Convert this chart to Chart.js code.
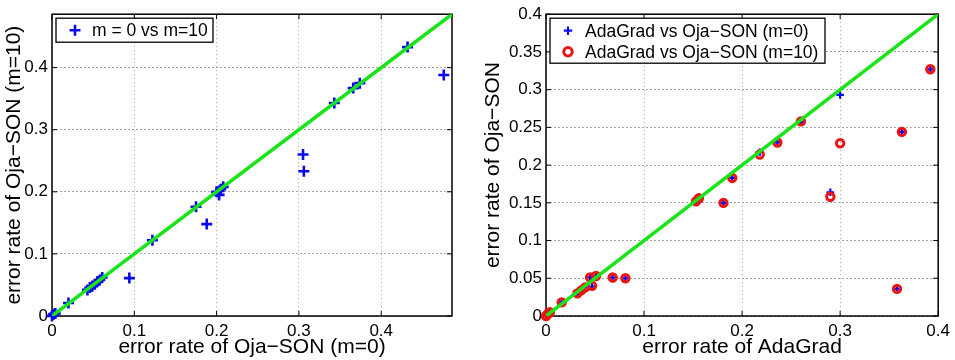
<!DOCTYPE html>
<html>
<head>
<meta charset="utf-8">
<script src="https://cdn.jsdelivr.net/npm/chart.js@4.4.0/dist/chart.umd.min.js"></script>
<style>
  body { margin: 0; background: #fff; }
  #left { position: absolute; left: 0; top: 0; }
  #right { position: absolute; left: 470px; top: 0; }
</style>
</head>
<body>
<canvas id="left" width="470" height="360"></canvas>
<canvas id="right" width="485" height="360"></canvas>
<script>
// ---------------- left panel: Oja-SON m=0 vs m=10 ----------------
const leftM0  = [0, 0.002, 0.004, 0.020, 0.043, 0.046, 0.049, 0.052, 0.055, 0.058, 0.061, 0.094, 0.122, 0.175, 0.188, 0.200, 0.203, 0.205, 0.208, 0.305, 0.306, 0.343, 0.366, 0.374, 0.432, 0.476];
const leftM10 = [0, 0.003, 0.004, 0.021, 0.042, 0.046, 0.048, 0.051, 0.055, 0.058, 0.062, 0.061, 0.122, 0.176, 0.148, 0.200, 0.195, 0.204, 0.208, 0.260, 0.233, 0.343, 0.367, 0.375, 0.433, 0.388];
const leftDiag = [0, 0.486];

// ---------------- right panel: AdaGrad vs Oja-SON ----------------
const adaGrad = [0, 0.002, 0.004, 0.016, 0.032, 0.036, 0.040, 0.045, 0.047, 0.051, 0.068, 0.081, 0.153, 0.156, 0.181, 0.190, 0.218, 0.236, 0.260, 0.290, 0.300, 0.358, 0.363, 0.392];
const ojaM0   = [0, 0.002, 0.004, 0.018, 0.029, 0.033, 0.038, 0.051, 0.039, 0.053, 0.051, 0.050, 0.152, 0.156, 0.150, 0.183, 0.217, 0.230, 0.257, 0.164, 0.293, 0.036, 0.244, 0.327];
const ojaM10  = [0, 0.003, 0.005, 0.018, 0.030, 0.034, 0.038, 0.051, 0.040, 0.053, 0.051, 0.050, 0.152, 0.156, 0.150, 0.183, 0.214, 0.230, 0.258, 0.158, 0.229, 0.036, 0.244, 0.327];
const rightDiag = [0, 0.4];

const FONT = '"Liberation Sans", Arial, sans-serif';
const BLUE = 'rgb(10,10,240)';
const RED = 'rgb(235,20,20)';
const GREEN = 'rgb(25,228,25)';

function pts(xs, ys) {
    return xs.map((v, i) => ({ x: v, y: ys[i] }));
}

// box + inward tick marks, like the matlab axes
const framePlugin = {
    id: 'frame',
    beforeDatasetsDraw(chart) {
        const { ctx, chartArea: a, scales: { x, y } } = chart;
        ctx.save();
        ctx.strokeStyle = '#000';
        ctx.lineWidth = 1;
        ctx.beginPath();
        x.ticks.forEach(t => {
            const px = x.getPixelForValue(t.value);
            ctx.moveTo(px, a.bottom); ctx.lineTo(px, a.bottom - 5);
            ctx.moveTo(px, a.top); ctx.lineTo(px, a.top + 5);
        });
        y.ticks.forEach(t => {
            const py = y.getPixelForValue(t.value);
            ctx.moveTo(a.left, py); ctx.lineTo(a.left + 5, py);
            ctx.moveTo(a.right, py); ctx.lineTo(a.right - 5, py);
        });
        ctx.stroke();
        ctx.lineWidth = 1.5;
        ctx.strokeRect(a.left, a.top, a.right - a.left, a.bottom - a.top);
        ctx.restore();
    }
};

// legend drawn inside the plot, in a boxed frame
const boxLegend = {
    id: 'boxLegend',
    afterDraw(chart, args, o) {
        const { ctx, chartArea: a } = chart;
        const x0 = a.left + o.dx, y0 = a.top + o.dy;
        ctx.save();
        ctx.fillStyle = '#fff';
        ctx.fillRect(x0, y0, o.w, o.h);
        ctx.strokeStyle = '#000';
        ctx.lineWidth = 1.3;
        ctx.strokeRect(x0, y0, o.w, o.h);
        ctx.font = '17.5px ' + FONT;
        ctx.textBaseline = 'middle';
        chart.data.datasets.filter(d => d.label).forEach((d, i) => {
            const cy = y0 + o.first + i * o.row;
            const mx = x0 + o.mark;
            ctx.strokeStyle = d.borderColor;
            ctx.lineWidth = d.borderWidth;
            ctx.beginPath();
            if (d.pointStyle === 'circle') {
                ctx.arc(mx, cy, o.legendRadius, 0, Math.PI * 2);
            } else {
                ctx.moveTo(mx - o.legendRadius, cy); ctx.lineTo(mx + o.legendRadius, cy);
                ctx.moveTo(mx, cy - o.legendRadius); ctx.lineTo(mx, cy + o.legendRadius);
            }
            ctx.stroke();
            ctx.fillStyle = '#000';
            ctx.fillText(d.label, x0 + o.text, cy + 1);
        });
        ctx.restore();
    }
};

function axes(max, yStep, xTitle, yTitle, yWidth, yTitlePad) {
    const fmt = v => String(+Number(v).toFixed(2));
    const tickOpts = step => ({
        stepSize: step, includeBounds: false, autoSkip: false, maxRotation: 0,
        font: { family: FONT, size: 17 }, color: '#000', callback: fmt
    });
    return {
        x: {
            type: 'linear', min: 0, max: max,
            grid: { color: '#a4a4a4', lineWidth: 1, drawTicks: false },
            border: { display: false, dash: [1, 3] },
            ticks: Object.assign(tickOpts(0.1), { padding: 5 }),
            title: { display: true, text: xTitle, color: '#000', font: { family: FONT, size: 21 }, padding: { bottom: 0 } },
            afterFit: s => { s.height = 44; }
        },
        y: {
            type: 'linear', min: 0, max: max,
            grid: { color: '#a4a4a4', lineWidth: 1, drawTicks: false },
            border: { display: false, dash: [2, 2] },
            ticks: Object.assign(tickOpts(yStep), { padding: 4 }),
            title: { display: true, text: yTitle, color: '#000', font: { family: FONT, size: 21 }, padding: { top: yTitlePad } },
            afterFit: s => { s.width = yWidth; }
        }
    };
}

new Chart(document.getElementById('left'), {
    type: 'scatter',
    data: {
        datasets: [
            {
                label: 'm = 0 vs m=10',
                data: pts(leftM0, leftM10),
                pointStyle: 'cross', pointRadius: 5.5, borderWidth: 2.6,
                borderColor: BLUE, backgroundColor: BLUE, clip: false, order: 2
            },
            {
                type: 'line',
                data: pts(leftDiag, leftDiag),
                borderColor: GREEN, borderWidth: 3.5, pointRadius: 0, fill: false, order: 1
            }
        ]
    },
    options: {
        responsive: false,
        animation: false,
        layout: { padding: { left: 0, right: 18, top: 2, bottom: 0 } },
        scales: axes(0.486, 0.1, 'error rate of Oja\u2212SON (m=0)', 'error rate of Oja\u2212SON (m=10)', 52, 2),
        plugins: {
            legend: { display: false },
            tooltip: { enabled: false },
            boxLegend: { dx: 4, dy: 4, w: 157, h: 24, first: 12, row: 21, mark: 19, text: 36, legendRadius: 5.5 }
        }
    },
    plugins: [framePlugin, boxLegend]
});

new Chart(document.getElementById('right'), {
    type: 'scatter',
    data: {
        datasets: [
            {
                label: 'AdaGrad vs Oja\u2212SON (m=0)',
                data: pts(adaGrad, ojaM0),
                pointStyle: 'cross', pointRadius: 3.8, borderWidth: 2.2,
                borderColor: BLUE, backgroundColor: BLUE, clip: false, order: 3
            },
            {
                label: 'AdaGrad vs Oja\u2212SON (m=10)',
                data: pts(adaGrad, ojaM10),
                pointStyle: 'circle', pointRadius: 3.7, borderWidth: 3,
                borderColor: RED, backgroundColor: 'rgba(0,0,0,0)', clip: false, order: 2
            },
            {
                type: 'line',
                data: pts(rightDiag, rightDiag),
                borderColor: GREEN, borderWidth: 3.5, pointRadius: 0, fill: false, order: 1
            }
        ]
    },
    options: {
        responsive: false,
        animation: false,
        layout: { padding: { left: 0, right: 14, top: 5, bottom: 0 } },
        scales: axes(0.4, 0.05, 'error rate of AdaGrad', 'error rate of Oja\u2212SON', 76, 11),
        plugins: {
            legend: { display: false },
            tooltip: { enabled: false },
            boxLegend: { dx: 4, dy: 4, w: 275, h: 45, first: 12.5, row: 21, mark: 18, text: 35, legendRadius: 4.2 }
        }
    },
    plugins: [framePlugin, boxLegend]
});
</script>
</body>
</html>
